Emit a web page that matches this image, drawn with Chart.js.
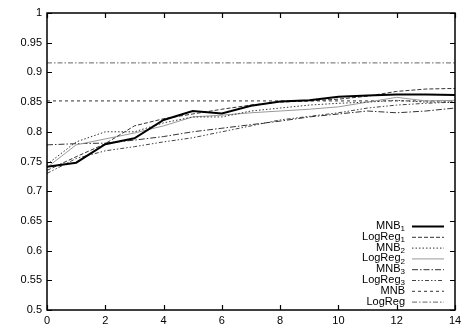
<!DOCTYPE html>
<html><head><meta charset="utf-8">
<script src="https://cdn.jsdelivr.net/npm/chart.js@4"></script>
<style>html,body{margin:0;padding:0;background:#fff}#w{width:474px;height:331px}</style>
</head><body><div id="w"><canvas id="c"></canvas></div>
<script>
const xs = [0,1,2,3,4,5,6,7,8,9,10,11,12,13,14];
const MNB1    = [0.741,0.748,0.779,0.789,0.820,0.835,0.831,0.844,0.851,0.853,0.859,0.861,0.863,0.863,0.862];
const LogReg1 = [0.735,0.758,0.780,0.810,0.822,0.830,0.838,0.845,0.850,0.852,0.855,0.860,0.868,0.872,0.873];
const MNB2    = [0.745,0.783,0.800,0.800,0.815,0.825,0.825,0.835,0.840,0.845,0.848,0.850,0.853,0.850,0.850];
const LogReg2 = [0.740,0.778,0.788,0.798,0.810,0.825,0.828,0.832,0.835,0.838,0.842,0.850,0.858,0.852,0.853];
const MNB3    = [0.778,0.780,0.781,0.786,0.792,0.800,0.806,0.812,0.818,0.825,0.830,0.835,0.832,0.835,0.840];
const LogReg3 = [0.730,0.755,0.768,0.775,0.783,0.790,0.800,0.810,0.820,0.826,0.832,0.840,0.845,0.848,0.850];
const MNB     = [0.852,0.852,0.852,0.852,0.852,0.852,0.852,0.852,0.852,0.852,0.852,0.852,0.852,0.852,0.852];
const LogReg  = [0.916,0.916,0.916,0.916,0.916,0.916,0.916,0.916,0.916,0.916,0.916,0.916,0.916,0.916,0.916];
const legendNames = [["MNB","1"],["LogReg","1"],["MNB","2"],["LogReg","2"],["MNB","3"],["LogReg","3"],["MNB",""],["LogReg",""]];
const xTicks = [0,2,4,6,8,10,12,14];
const yTicks = [0.5,0.55,0.6,0.65,0.7,0.75,0.8,0.85,0.9,0.95,1];

const styles = [
  {c:'#000', w:2, d:[]},
  {c:'#333', w:1, d:[4,2]},
  {c:'#333', w:1, d:[1.5,2]},
  {c:'#999', w:1, d:[]},
  {c:'#333', w:1, d:[6,2,1.5,2]},
  {c:'#444', w:1, d:[4,2,1.5,2,1.5,2]},
  {c:'#333', w:1, d:[3,3]},
  {c:'#666', w:1, d:[5,2,1.5,2]}
];
const series = [MNB1,LogReg1,MNB2,LogReg2,MNB3,LogReg3,MNB,LogReg];
const datasets = series.map((s,i)=>({
  label: legendNames[i].join(''),
  data: xs.map((x,j)=>({x:x,y:s[j]})),
  borderColor: styles[i].c, borderWidth: styles[i].w, borderDash: styles[i].d,
  pointRadius:0, fill:false, tension:0
}));

const font = 'Liberation Sans, Arial, sans-serif';
const framePlugin = {
  id:'frame',
  afterDraw(chart){
    const {ctx, chartArea:a, scales:{x,y}} = chart;
    ctx.save();
    ctx.strokeStyle='#000'; ctx.lineWidth=1.5; ctx.setLineDash([]);
    ctx.strokeRect(a.left, a.top, a.right-a.left, a.bottom-a.top);
    ctx.lineWidth=1.2;
    ctx.beginPath();
    xTicks.forEach(v=>{const p=Math.round(x.getPixelForValue(v))+0.5;
      ctx.moveTo(p,a.bottom); ctx.lineTo(p,a.bottom-5);
      ctx.moveTo(p,a.top); ctx.lineTo(p,a.top+5);});
    yTicks.forEach(v=>{const p=Math.round(y.getPixelForValue(v))+0.5;
      ctx.moveTo(a.left,p); ctx.lineTo(a.left+5,p);
      ctx.moveTo(a.right,p); ctx.lineTo(a.right-5,p);});
    ctx.stroke();
    // legend
    const rowH = 10.8, top0 = 226, textRight = 405, sx0 = 412, sx1 = 444;
    legendNames.forEach((n,i)=>{
      const yy = top0 + i*rowH;
      ctx.font = '11px '+font; ctx.fillStyle='#000';
      ctx.textBaseline='middle'; ctx.textAlign='right';
      let subW = 0;
      if(n[1]){ ctx.font='8px '+font; subW = ctx.measureText(n[1]).width;
        ctx.fillText(n[1], textRight, yy+3); }
      ctx.font='11px '+font;
      ctx.fillText(n[0], textRight - subW, yy);
      ctx.strokeStyle=styles[i].c; ctx.lineWidth=styles[i].w; ctx.setLineDash(styles[i].d);
      ctx.beginPath(); ctx.moveTo(sx0,yy+0.5); ctx.lineTo(sx1,yy+0.5); ctx.stroke();
    });
    ctx.restore();
  }
};

new Chart(document.getElementById('c'), {
  type:'line',
  data:{datasets},
  options:{
    responsive:true, maintainAspectRatio:false, animation:false,
    layout:{padding:{top:13,right:19,left:0,bottom:0}},
    plugins:{legend:{display:false}, tooltip:{enabled:false}},
    scales:{
      x:{type:'linear', min:0, max:14,
        afterBuildTicks(s){ s.ticks = xTicks.map(v=>({value:v})); },
        afterFit(s){ s.height = 21; },
        grid:{display:false, drawTicks:false}, border:{display:false},
        ticks:{color:'#000', font:{family:font,size:11}, padding:4, maxRotation:0}},
      y:{type:'linear', min:0.5, max:1,
        afterBuildTicks(s){ s.ticks = yTicks.map(v=>({value:v})); },
        afterFit(s){ s.width = 47; },
        grid:{display:false, drawTicks:false}, border:{display:false},
        ticks:{color:'#000', font:{family:font,size:11}, padding:5,
          callback:(v)=>String(Math.round(v*100)/100)}}
    }
  },
  plugins:[framePlugin]
});
</script></body></html>
